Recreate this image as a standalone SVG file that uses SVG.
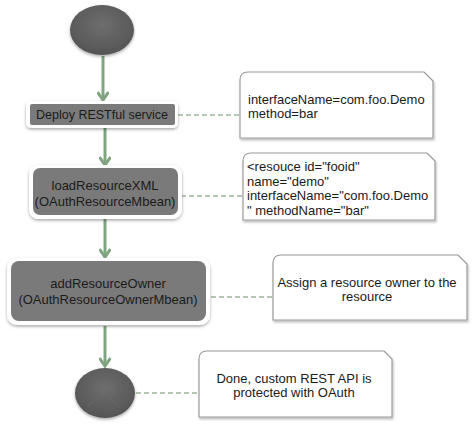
<svg xmlns="http://www.w3.org/2000/svg" width="473" height="425" viewBox="0 0 473 425">
<defs>
<style>
text{font-family:"Liberation Sans",Arial,sans-serif;font-size:13px;fill:#1a1a1a}
.c{text-anchor:middle}
.flow{stroke:#7fa47f;stroke-width:3;fill:none}
.dash{stroke:#9db59d;stroke-width:1.6;stroke-dasharray:5 3;fill:none}
.outer{fill:#fff;filter:url(#sh)}
.act{fill:#7a7a7a}
.note{fill:#fff;stroke:#9a9a9a;stroke-width:1.2;filter:url(#sh2)}
</style>
<filter id="sh" x="-10%" y="-20%" width="120%" height="150%">
<feDropShadow dx="0" dy="1.5" stdDeviation="1.5" flood-color="#000" flood-opacity="0.35"/>
</filter>
<filter id="sh2" x="-10%" y="-20%" width="120%" height="150%">
<feDropShadow dx="1" dy="2" stdDeviation="1.2" flood-color="#000" flood-opacity="0.25"/>
</filter>
<radialGradient id="g" cx="50%" cy="40%" r="60%">
<stop offset="0" stop-color="#6e6e6e"/>
<stop offset="1" stop-color="#555"/>
</radialGradient>
<marker id="ah" markerWidth="12" markerHeight="12" refX="10" refY="6" orient="auto" markerUnits="userSpaceOnUse">
<path d="M2,0.5 L10,6 L2,11.5" fill="none" stroke="#7fa47f" stroke-width="3"/>
</marker>
</defs>

<g id="connectors">
<line class="flow" x1="103" y1="56" x2="103" y2="100" marker-end="url(#ah)"/>
<line class="flow" x1="105" y1="128" x2="105" y2="165" marker-end="url(#ah)"/>
<line class="flow" x1="105" y1="219" x2="105" y2="257" marker-end="url(#ah)"/>
<line class="flow" x1="105" y1="326" x2="105" y2="366" marker-end="url(#ah)"/>
<line class="dash" x1="178" y1="115" x2="239" y2="115"/>
<line class="dash" x1="181" y1="196" x2="242" y2="196"/>
<line class="dash" x1="211" y1="297" x2="272" y2="297"/>
<line class="dash" x1="136" y1="393" x2="198" y2="393"/>
</g>

<g id="start">
<ellipse cx="102" cy="30" rx="32" ry="25" fill="url(#g)" filter="url(#sh)"/>
</g>

<g id="deploy">
<rect class="outer" x="26" y="101" width="152" height="27" rx="5"/>
<rect class="act" x="30" y="104" width="145" height="21" rx="2"/>
<text class="c" x="102" y="119" style="font-size:12.5px">Deploy RESTful service</text>
</g>

<g id="loadResourceXML">
<rect class="outer" x="29" y="165" width="153" height="54" rx="9"/>
<rect class="act" x="33" y="168" width="145" height="47" rx="7"/>
<text class="c" x="105" y="190">loadResourceXML</text>
<text class="c" x="105" y="206">(OAuthResourceMbean)</text>
</g>

<g id="addResourceOwner">
<rect class="outer" x="7" y="258" width="203" height="67" rx="10"/>
<rect class="act" x="11" y="261" width="195" height="60" rx="8"/>
<text class="c" x="108" y="288">addResourceOwner</text>
<text class="c" x="108" y="304">(OAuthResourceOwnerMbean)</text>
</g>

<g id="end">
<ellipse cx="105" cy="393" rx="30" ry="25" fill="url(#g)" filter="url(#sh)"/>
<path d="M88,406 L104,392 L119,407" fill="none" stroke="#6c6c6c" stroke-width="1" opacity="0.7"/>
</g>

<g id="note1">
<path class="note" d="M248,72 H424 L433,81 V138 H240 V80 Q240,72 248,72 Z"/>
<text x="248" y="104">interfaceName=com.foo.Demo</text>
<text x="248" y="118">method=bar</text>
</g>

<g id="note2">
<path class="note" d="M251,153 H427 L435,161 V220 H243 V161 Q243,153 251,153 Z"/>
<text x="247" y="171">&lt;resouce id="fooid"</text>
<text x="247" y="186">name="demo"</text>
<text x="247" y="200">interfaceName="com.foo.Demo</text>
<text x="247" y="215">" methodName="bar"</text>
</g>

<g id="note3">
<path class="note" d="M281,255 H458 L467,264 V320 H273 V263 Q273,255 281,255 Z"/>
<text class="c" x="367" y="287">Assign a resource owner to the</text>
<text class="c" x="367" y="301">resource</text>
</g>

<g id="note4">
<path class="note" d="M207,351 H384 L392,359 V417 H199 V359 Q199,351 207,351 Z"/>
<text class="c" x="294" y="383">Done, custom REST API is</text>
<text class="c" x="294" y="397">protected with OAuth</text>
</g>
</svg>
